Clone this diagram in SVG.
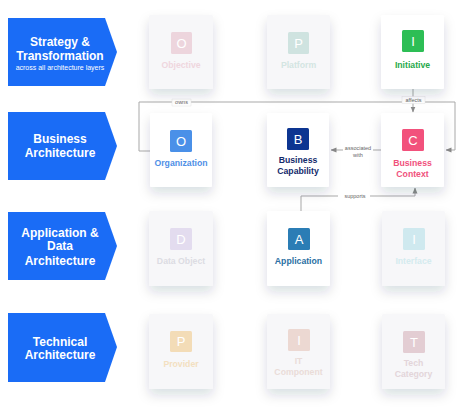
<svg xmlns="http://www.w3.org/2000/svg" width="474" height="417" viewBox="0 0 474 417">
<defs>
<filter id="sh" x="-40%" y="-30%" width="180%" height="170%">
<feDropShadow dx="0" dy="6" stdDeviation="6" flood-color="#1a2340" flood-opacity="0.15"/>
</filter>
<marker id="ar" viewBox="0 0 6 6" refX="5.5" refY="3" markerWidth="6" markerHeight="6" orient="auto" markerUnits="userSpaceOnUse">
<path d="M0,0.5 L6,3 L0,5.5 Z" fill="#8a8a8a"/>
</marker>
<style>
.chev{fill:#1a6cf6}
.ct{font-family:"Liberation Sans",Arial,sans-serif;font-weight:bold;font-size:12px;fill:#fff;text-anchor:middle}
.cs{font-family:"Liberation Sans",Arial,sans-serif;font-size:7px;fill:#fff;text-anchor:middle}
.card{fill:#fff;filter:url(#sh)}
.fcard{fill:#f7f7f9;filter:url(#sh)}
.lbl{font-family:"Liberation Sans",Arial,sans-serif;font-weight:bold;font-size:8.7px;text-anchor:middle}
.ic{font-family:"Liberation Sans",Arial,sans-serif;font-size:13px;fill:#fff;text-anchor:middle}
.ln{fill:none;stroke:#a9a9a9;stroke-width:1}
.cl{font-family:"Liberation Sans",Arial,sans-serif;font-size:5.5px;fill:#666;text-anchor:middle}
</style>
</defs>
<rect width="474" height="417" fill="#fff"/>

<g id="layer-strategy">
<path class="chev" d="M8,18 H105 L117,52 L105,86 H8 Z"/>
<text class="ct" x="60" y="46">Strategy &amp;</text>
<text class="ct" x="60" y="60">Transformation</text>
<text class="cs" x="60" y="70">across all architecture layers</text>
</g>
<g id="layer-business">
<path class="chev" d="M8,112 H105 L117,146 L105,180 H8 Z"/>
<text class="ct" x="60" y="143">Business</text>
<text class="ct" x="60" y="157">Architecture</text>
</g>
<g id="layer-application">
<path class="chev" d="M8,212 H105 L117,246 L105,280 H8 Z"/>
<text class="ct" x="60" y="237">Application &amp;</text>
<text class="ct" x="60" y="250">Data</text>
<text class="ct" x="60" y="265">Architecture</text>
</g>
<g id="layer-technical">
<path class="chev" d="M8,313 H105 L117,347 L105,382 H8 Z"/>
<text class="ct" x="60" y="346">Technical</text>
<text class="ct" x="60" y="359">Architecture</text>
</g>

<g id="connectors">
<path class="ln" d="M150,151 H139 V102 H455 V150 H446" marker-end="url(#ar)"/>
<rect x="172" y="99" width="19" height="7" fill="#fff" stroke="#e4e4e4" stroke-width="0.5"/>
<text class="cl" x="181.5" y="104.3">owns</text>
<path class="ln" d="M413,89 V112" marker-end="url(#ar)"/>
<rect x="402" y="96.5" width="23" height="7" fill="#fff" stroke="#e4e4e4" stroke-width="0.5"/>
<text class="cl" x="413.5" y="101.8">affects</text>
<path class="ln" d="M381,150 H373"/>
<path class="ln" d="M343,150 H331" marker-end="url(#ar)"/>
<text class="cl" x="358" y="150">associated</text>
<text class="cl" x="358" y="156.5">with</text>
<path class="ln" d="M301,211 V196 H338"/>
<path class="ln" d="M370,196 H415 V188" marker-end="url(#ar)"/>
<text class="cl" x="355" y="197.5">supports</text>
</g>

<g id="objective">
<rect class="fcard" x="149" y="15" width="64" height="74" rx="1.5"/>
<rect x="171" y="32" width="21" height="22" rx="1.5" fill="#edd5dd"/>
<text class="ic" x="181.5" y="47.5">O</text>
<text class="lbl" x="181" y="68" fill="#efd6de">Objective</text>
</g>
<g id="platform">
<rect class="fcard" x="267" y="15" width="63" height="74" rx="1.5"/>
<rect x="288" y="32" width="21" height="22" rx="1.5" fill="#cfe3e0"/>
<text class="ic" x="298.5" y="47.5">P</text>
<text class="lbl" x="298.5" y="68" fill="#d3e5e2">Platform</text>
</g>
<g id="initiative">
<rect class="card" x="381" y="15" width="63" height="74" rx="1.5"/>
<rect x="402" y="30" width="22" height="22" rx="1.5" fill="#2dbe55"/>
<text class="ic" x="413" y="45.5">I</text>
<text class="lbl" x="412.5" y="68" fill="#25a94a">Initiative</text>
</g>

<g id="organization">
<rect class="card" x="150" y="113" width="62" height="74" rx="1.5"/>
<rect x="170" y="130" width="22" height="22" rx="1.5" fill="#4a90e8"/>
<text class="ic" x="181" y="145.5">O</text>
<text class="lbl" x="181" y="166" fill="#4f8fe6">Organization</text>
</g>
<g id="business-capability">
<rect class="card" x="267" y="113" width="62" height="74" rx="1.5"/>
<rect x="287" y="128" width="22" height="22" rx="1.5" fill="#0d3591"/>
<text class="ic" x="298" y="143.5">B</text>
<text class="lbl" x="298" y="163" fill="#132a6b">Business</text>
<text class="lbl" x="298" y="173.5" fill="#132a6b">Capability</text>
</g>
<g id="business-context">
<rect class="card" x="381" y="113" width="63" height="74" rx="1.5"/>
<rect x="402" y="129" width="22" height="22" rx="1.5" fill="#f2517c"/>
<text class="ic" x="413" y="144.5">C</text>
<text class="lbl" x="412.5" y="166" fill="#f0517c">Business</text>
<text class="lbl" x="412.5" y="176.5" fill="#f0517c">Context</text>
</g>

<g id="data-object">
<rect class="fcard" x="149" y="211" width="64" height="75" rx="1.5"/>
<rect x="170" y="228" width="22" height="22" rx="1.5" fill="#e3dcef"/>
<text class="ic" x="181" y="243.5">D</text>
<text class="lbl" x="181" y="264" fill="#dcdce3">Data Object</text>
</g>
<g id="application">
<rect class="card" x="267" y="211" width="63" height="75" rx="1.5"/>
<rect x="288" y="228" width="22" height="22" rx="1.5" fill="#2b7db5"/>
<text class="ic" x="299" y="243.5">A</text>
<text class="lbl" x="298.5" y="264" fill="#2a6fa3">Application</text>
</g>
<g id="interface">
<rect class="fcard" x="382" y="211" width="63" height="75" rx="1.5"/>
<rect x="403" y="228" width="22" height="22" rx="1.5" fill="#cfe9ef"/>
<text class="ic" x="414" y="243.5">I</text>
<text class="lbl" x="413.5" y="264" fill="#d4ebef">Interface</text>
</g>

<g id="provider">
<rect class="fcard" x="149" y="314" width="64" height="75" rx="1.5"/>
<rect x="170" y="331" width="22" height="21" rx="1.5" fill="#f3dcb7"/>
<text class="ic" x="181" y="346">P</text>
<text class="lbl" x="181" y="367" fill="#f3dfc0">Provider</text>
</g>
<g id="it-component">
<rect class="fcard" x="267" y="314" width="63" height="75" rx="1.5"/>
<rect x="288" y="329" width="22" height="22" rx="1.5" fill="#ecd8d2"/>
<text class="ic" x="299" y="344.5">I</text>
<text class="lbl" x="298.5" y="364" fill="#eadcd8">IT</text>
<text class="lbl" x="298.5" y="375" fill="#eadcd8">Component</text>
</g>
<g id="tech-category">
<rect class="fcard" x="382" y="314" width="63" height="75" rx="1.5"/>
<rect x="403" y="331" width="22" height="22" rx="1.5" fill="#e3cdd3"/>
<text class="ic" x="414" y="346.5">T</text>
<text class="lbl" x="413.5" y="366" fill="#e3d5d9">Tech</text>
<text class="lbl" x="413.5" y="377" fill="#e3d5d9">Category</text>
</g>
</svg>
